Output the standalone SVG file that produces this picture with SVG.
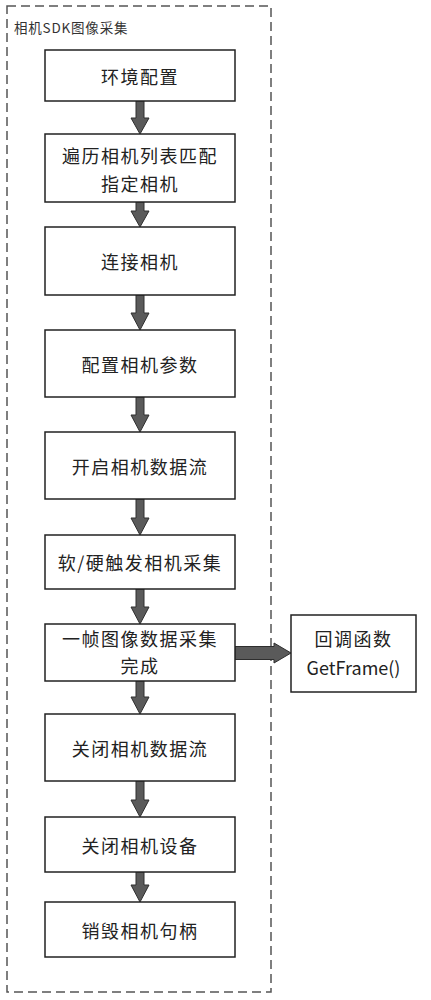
<svg xmlns="http://www.w3.org/2000/svg" width="431" height="1000" viewBox="0 0 431 1000">
<style>
.box{fill:#fff;stroke:#222;stroke-width:1.5}
.t{font-family:"Noto Sans CJK SC","Noto Sans",sans-serif;font-size:18px;fill:#222;text-anchor:middle;dominant-baseline:central;letter-spacing:1.5px}
.arr{fill:#5a5a5a;stroke:#2e2e2e;stroke-width:1}
.frame{fill:none;stroke:#555;stroke-width:1.5;stroke-dasharray:9 5}
.title{font-family:"Noto Sans CJK SC","Noto Sans",sans-serif;font-size:13.5px;fill:#333;dominant-baseline:central;letter-spacing:0.8px}
</style>
<rect width="431" height="1000" fill="#fff"/>
<g id="container">
<rect class="frame" x="7" y="6" width="264" height="986"/>
<text class="title" x="14" y="27">相机SDK图像采集</text>
</g>
<g id="connectors">
<path class="arr" d="M136,101 L144,101 L144,118 L149,118 L140,134 L131,118 L136,118 Z"/>
<path class="arr" d="M136,202 L144,202 L144,211 L149,211 L140,227 L131,211 L136,211 Z"/>
<path class="arr" d="M136,295 L144,295 L144,313 L149,313 L140,330 L131,313 L136,313 Z"/>
<path class="arr" d="M136,397 L144,397 L144,415 L149,415 L140,432 L131,415 L136,415 Z"/>
<path class="arr" d="M136,499 L144,499 L144,518 L149,518 L140,535 L131,518 L136,518 Z"/>
<path class="arr" d="M136,589 L144,589 L144,607 L149,607 L140,624 L131,607 L136,607 Z"/>
<path class="arr" d="M136,681 L144,681 L144,697 L149,697 L140,714 L131,697 L136,697 Z"/>
<path class="arr" d="M136,781 L144,781 L144,800 L149,800 L140,817 L131,800 L136,800 Z"/>
<path class="arr" d="M136,872 L144,872 L144,885 L149,885 L140,902 L131,885 L136,885 Z"/>
<path class="arr" d="M235,646.5 L274,646.5 L274,643 L291,653 L274,663 L274,659.5 L235,659.5 Z"/>
</g>
<g id="n1"><rect class="box" x="45" y="50" width="190" height="51"/><text class="t" x="140" y="75.5">环境配置</text></g>
<g id="n2"><rect class="box" x="45" y="134" width="190" height="68"/><text class="t" x="140" y="155">遍历相机列表匹配</text><text class="t" x="140" y="183">指定相机</text></g>
<g id="n3"><rect class="box" x="45" y="227" width="190" height="68"/><text class="t" x="140" y="261">连接相机</text></g>
<g id="n4"><rect class="box" x="45" y="330" width="190" height="67"/><text class="t" x="140" y="363.5">配置相机参数</text></g>
<g id="n5"><rect class="box" x="45" y="432" width="190" height="67"/><text class="t" x="140" y="465.5">开启相机数据流</text></g>
<g id="n6"><rect class="box" x="45" y="535" width="190" height="54"/><text class="t" x="140" y="562">软/硬触发相机采集</text></g>
<g id="n7"><rect class="box" x="45" y="624" width="190" height="57"/><text class="t" x="140" y="638">一帧图像数据采集</text><text class="t" x="140" y="665">完成</text></g>
<g id="n8"><rect class="box" x="45" y="714" width="190" height="67"/><text class="t" x="140" y="747.5">关闭相机数据流</text></g>
<g id="n9"><rect class="box" x="45" y="817" width="190" height="55"/><text class="t" x="140" y="844.5">关闭相机设备</text></g>
<g id="n10"><rect class="box" x="45" y="902" width="190" height="55"/><text class="t" x="140" y="929.5">销毁相机句柄</text></g>
<g id="callback"><rect class="box" x="291" y="615" width="125" height="77"/><text class="t" x="353.5" y="638">回调函数</text><text class="t" x="353.5" y="667" style="letter-spacing:0">GetFrame()</text></g>
</svg>
